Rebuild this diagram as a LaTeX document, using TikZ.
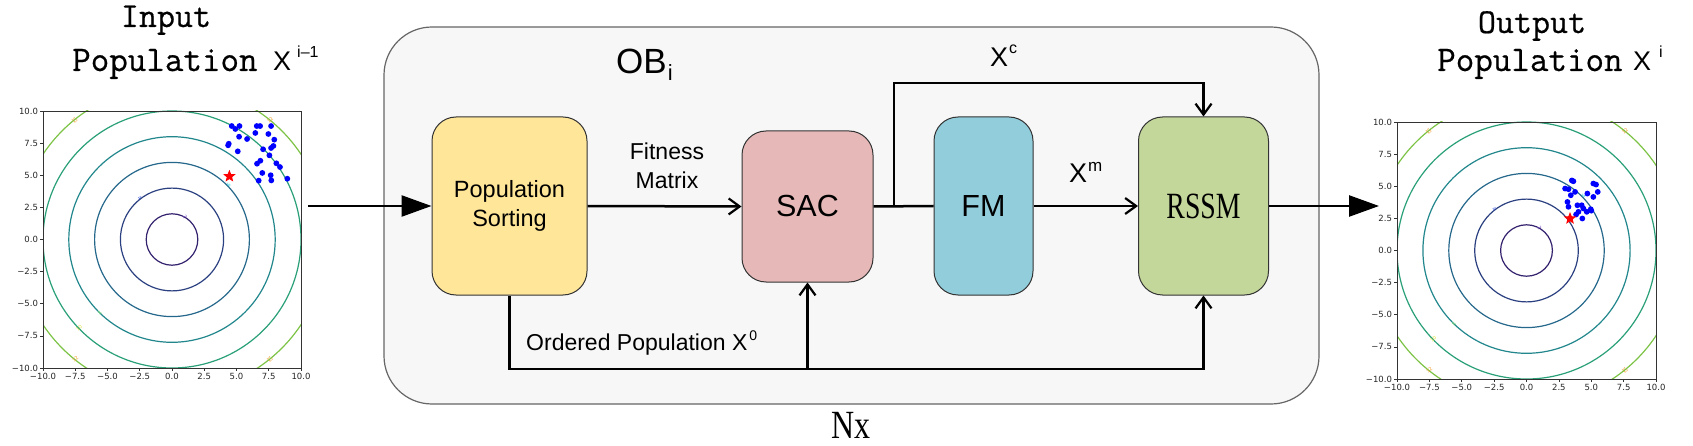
\documentclass[tikz,border=0pt]{standalone}
\usepackage{fontspec}
\usepackage{graphicx}
\setmainfont{Liberation Sans}
\newfontfamily\tickfont{DejaVu Sans}
\newfontfamily\simfont{Liberation Serif}
\newfontfamily\titlefont[FakeBold=0.6]{Latin Modern Mono}
\usetikzlibrary{arrows.meta,shapes.geometric}
\definecolor{popc}{HTML}{FFE699}
\definecolor{sacc}{HTML}{E6B9B8}
\definecolor{fmc}{HTML}{92CDDC}
\definecolor{rssmc}{HTML}{C4D79B}
\definecolor{bgc}{HTML}{F7F7F7}
\definecolor{ctwo}{HTML}{35226F}
\definecolor{cfour}{HTML}{2B4080}
\definecolor{csix}{HTML}{26688C}
\definecolor{ceight}{HTML}{21878C}
\definecolor{cten}{HTML}{2AA078}
\definecolor{ctwelve}{HTML}{7CC346}
\definecolor{ltwo}{HTML}{7A50C8}
\definecolor{lfour}{HTML}{4060E0}
\definecolor{lsix}{HTML}{30D0E0}
\definecolor{leight}{HTML}{80E080}
\definecolor{lten}{HTML}{E0E040}
\definecolor{ltwelve}{HTML}{F0A030}
\tikzset{
  blk/.style={draw=black!80, line width=1pt, rounded corners=24pt, inner sep=0pt},
  conn/.style={line width=2.5pt},
  barb/.style={-{Straight Barb[length=11pt,width=16pt,line width=2.2pt]}},
  bigarrow/.style={-{Triangle[length=30pt,width=21pt]}},
  txt/.style={inner sep=0pt},
  lbl/.style={inner sep=0pt, font=\fontsize{23}{29}\selectfont},
  ticklbl/.style={inner sep=1.5pt, font=\tickfont\fontsize{8.5}{9}\selectfont, text=black!85},
  clab/.style={inner sep=0pt, font=\tickfont\fontsize{5}{5}\selectfont},
  dot/.style={fill=blue},
}
\newcommand{\contourplot}[1]{%
  \begin{scope}
    \clip (-10,-10) rectangle (10,10);
    \draw[ctwo, line width=1.2pt] (0,0) circle (2);
    \draw[cfour, line width=1.2pt] (0,0) circle (4);
    \draw[csix, line width=1.2pt] (0,0) circle (6);
    \draw[ceight, line width=1.2pt] (0,0) circle (8);
    \draw[cten, line width=1.2pt] (0,0) circle (10);
    \draw[ctwelve, line width=1.2pt] (0,0) circle (12);
  \end{scope}
  \node[clab, text=ltwo, rotate=-60] (#1l2) at (1.0,1.75) {2};
  \node[clab, text=lfour, rotate=-40] (#1l4) at (-2.5,3.2) {4};
  \node[clab, text=lsix, rotate=45] (#1l6) at (4.4,4.2) {6};
  \node[clab, text=leight, rotate=45] (#1l8) at (-5.6,-5.7) {8};
  \node[clab, text=lten, rotate=45] (#1l10) at (-7.2,-6.9) {10};
  \node[clab, text=ltwelve, rotate=-45] (#1la) at (-7.55,9.25) {12};
  \node[clab, text=ltwelve, rotate=45] (#1lb) at (7.6,9.3) {12};
  \node[clab, text=ltwelve, rotate=45] (#1lc) at (-7.5,-9.3) {12};
  \node[clab, text=ltwelve, rotate=-45] (#1ld) at (7.6,-9.35) {12};
  \draw[black!80, line width=0.8pt] (-10,-10) rectangle (10,10);
  \foreach \v/\l in {-10/−10.0,-7.5/−7.5,-5/−5.0,-2.5/−2.5,0/0.0,2.5/2.5,5/5.0,7.5/7.5,10/10.0}{
    \draw[black!80, line width=0.6pt] (\v,-10) -- (\v,-10.25) node[ticklbl, anchor=north] {\l};
    \draw[black!80, line width=0.6pt] (-10,\v) -- (-10.25,\v) node[ticklbl, anchor=east] {\l};
  }
}
\begin{document}
\begin{tikzpicture}[x=1pt,y=-1pt]
\useasboundingbox (0,0) rectangle (1693,446);
\fill[white] (0,0) rectangle (1693,446);

% ---- titles ----
\node[txt, anchor=base, font=\titlefont\fontsize{35}{35}\selectfont] (tin1) at (166,27) {Input};
\node[txt, anchor=base west, font=\titlefont\fontsize{36}{36}\selectfont] (tin2) at (72,71) {Population};
\node[txt, anchor=base west, font=\fontsize{27}{27}\selectfont] (tin3) at (273,71) {X\hspace{6pt}\raisebox{13pt}{\fontsize{16}{16}\selectfont i–1}};
\node[txt, anchor=base, font=\titlefont\fontsize{35}{35}\selectfont] (tout1) at (1532,33) {Output};
\node[txt, anchor=base west, font=\titlefont\fontsize{36}{36}\selectfont] (tout2) at (1437,71) {Population};
\node[txt, anchor=base west, font=\fontsize{27}{27}\selectfont] (tout3) at (1633,71) {X\hspace{8pt}\raisebox{13pt}{\fontsize{16}{16}\selectfont i}};

% ---- left plot ----
\begin{scope}[shift={(172,239.5)}, x=12.9pt, y=12.85pt]
  \contourplot{L}
  \foreach \p in {(4.63,8.83),(5.23,8.83),(4.91,8.6),(6.57,8.83),(6.83,8.83),(7.68,8.83),
    (5.2,8.0),(5.82,7.82),(6.46,8.29),(7.47,8.21),(7.93,7.77),(4.35,7.33),(4.4,7.45),
    (5.1,6.86),(7.06,7.02),(7.68,7.12),(7.86,7.28),(7.55,6.55),(6.59,5.9),(6.85,6.13),
    (8.09,5.93),(8.37,5.64),(7.0,5.18),(7.65,5.0),(7.7,4.6),(6.72,4.58),(8.94,4.73)}
    \fill[dot] \p circle (2.9pt);
  \node[star, star points=5, star point ratio=2.3, fill=red, inner sep=0pt, minimum size=13pt] (starL) at (4.45,4.92) {};
\end{scope}

% ---- right plot ----
\begin{scope}[shift={(1526.5,250.5)}, x=12.95pt, y=12.85pt]
  \contourplot{R}
  \foreach \p in {(3.62,5.39),(3.5,5.45),(2.98,4.82),(3.24,4.77),(3.75,4.56),(3.42,4.30),(4.70,4.43),
    (5.16,5.21),(5.37,5.13),(5.50,4.56),(5.16,4.17),(3.16,3.78),(3.24,3.40),
    (3.93,3.52),(4.26,3.52),(4.39,3.27),(4.01,3.01),(3.83,2.80),(4.65,3.01),
    (4.96,3.21),(4.31,2.49),(5.0,3.1)}
    \fill[dot] \p circle (2.9pt);
  \node[star, star points=5, star point ratio=2.3, fill=red, inner sep=0pt, minimum size=13pt] (starR) at (3.36,2.49) {};
\end{scope}

% ---- big block ----
\node[draw=black!60, fill=bgc, line width=1.2pt, rounded corners=48pt, minimum width=935pt, minimum height=377pt, inner sep=0pt] (ob) at (851.5,215.5) {};
\node[txt, anchor=base west, font=\fontsize{35}{35}\selectfont] (obl) at (616,74) {OB\hspace{1pt}\raisebox{-7pt}{\fontsize{22}{22}\selectfont i}};

\node[blk, fill=popc, minimum width=155pt, minimum height=178pt, align=center, font=\fontsize{23.5}{29}\selectfont] (pop) at (509.5,206) {Population\\Sorting};
\node[blk, fill=sacc, minimum width=131pt, minimum height=151pt, font=\fontsize{30.5}{36}\selectfont] (sac) at (807.5,206.5) {SAC};
\node[blk, fill=fmc, minimum width=99pt, minimum height=178pt, font=\fontsize{30.5}{36}\selectfont] (fm) at (983.5,206) {FM};
\node[blk, fill=rssmc, minimum width=130pt, minimum height=178pt, font=\simfont\fontsize{37}{37}\selectfont] (rssm) at (1203.5,206) {\scalebox{0.75}[1]{RSSM}};

% ---- coordinates ----
\coordinate (inS) at (308,206);
\coordinate (outE) at (1379,206);
\coordinate (br) at (894,206);
\coordinate (xc) at (894,83);
\coordinate (bl) at (509.5,369);

% ---- connectors ----
\draw[conn, bigarrow] (inS) -- (pop.west);
\draw[conn, barb] (pop.east) -- (sac.west);
\draw[conn] (sac.east) -- (fm.west);
\draw[conn, barb] (br) -- (xc) -| (rssm.north);
\draw[conn, barb] (fm.east) -- (rssm.west);
\draw[conn, bigarrow] (rssm.east) -- (outE);
\draw[conn, barb] (pop.south) -- (bl) -| (rssm.south);
\draw[conn, barb] (sac.south |- bl) -- (sac.south);

% ---- labels ----
\node[lbl, anchor=base] (fit1) at (667,160) {Fitness};
\node[lbl, anchor=base] (fit2) at (667,189) {Matrix};
\node[txt, anchor=base west, font=\fontsize{27}{27}\selectfont] (xcl) at (990,67) {X\hspace{1pt}\raisebox{13pt}{\fontsize{16}{16}\selectfont c}};
\node[txt, anchor=base west, font=\fontsize{27}{27}\selectfont] (xml) at (1069,183) {X\hspace{1pt}\raisebox{11pt}{\fontsize{17}{17}\selectfont m}};
\node[lbl, anchor=base west] (ordl) at (526,350) {Ordered Population X\hspace{2pt}\raisebox{10pt}{\fontsize{14}{14}\selectfont 0}};
\node[txt, anchor=base, font=\simfont\fontsize{40}{40}\selectfont] (nx) at (851,438) {\scalebox{0.8}[1]{Nx}};
\end{tikzpicture}
\end{document}
